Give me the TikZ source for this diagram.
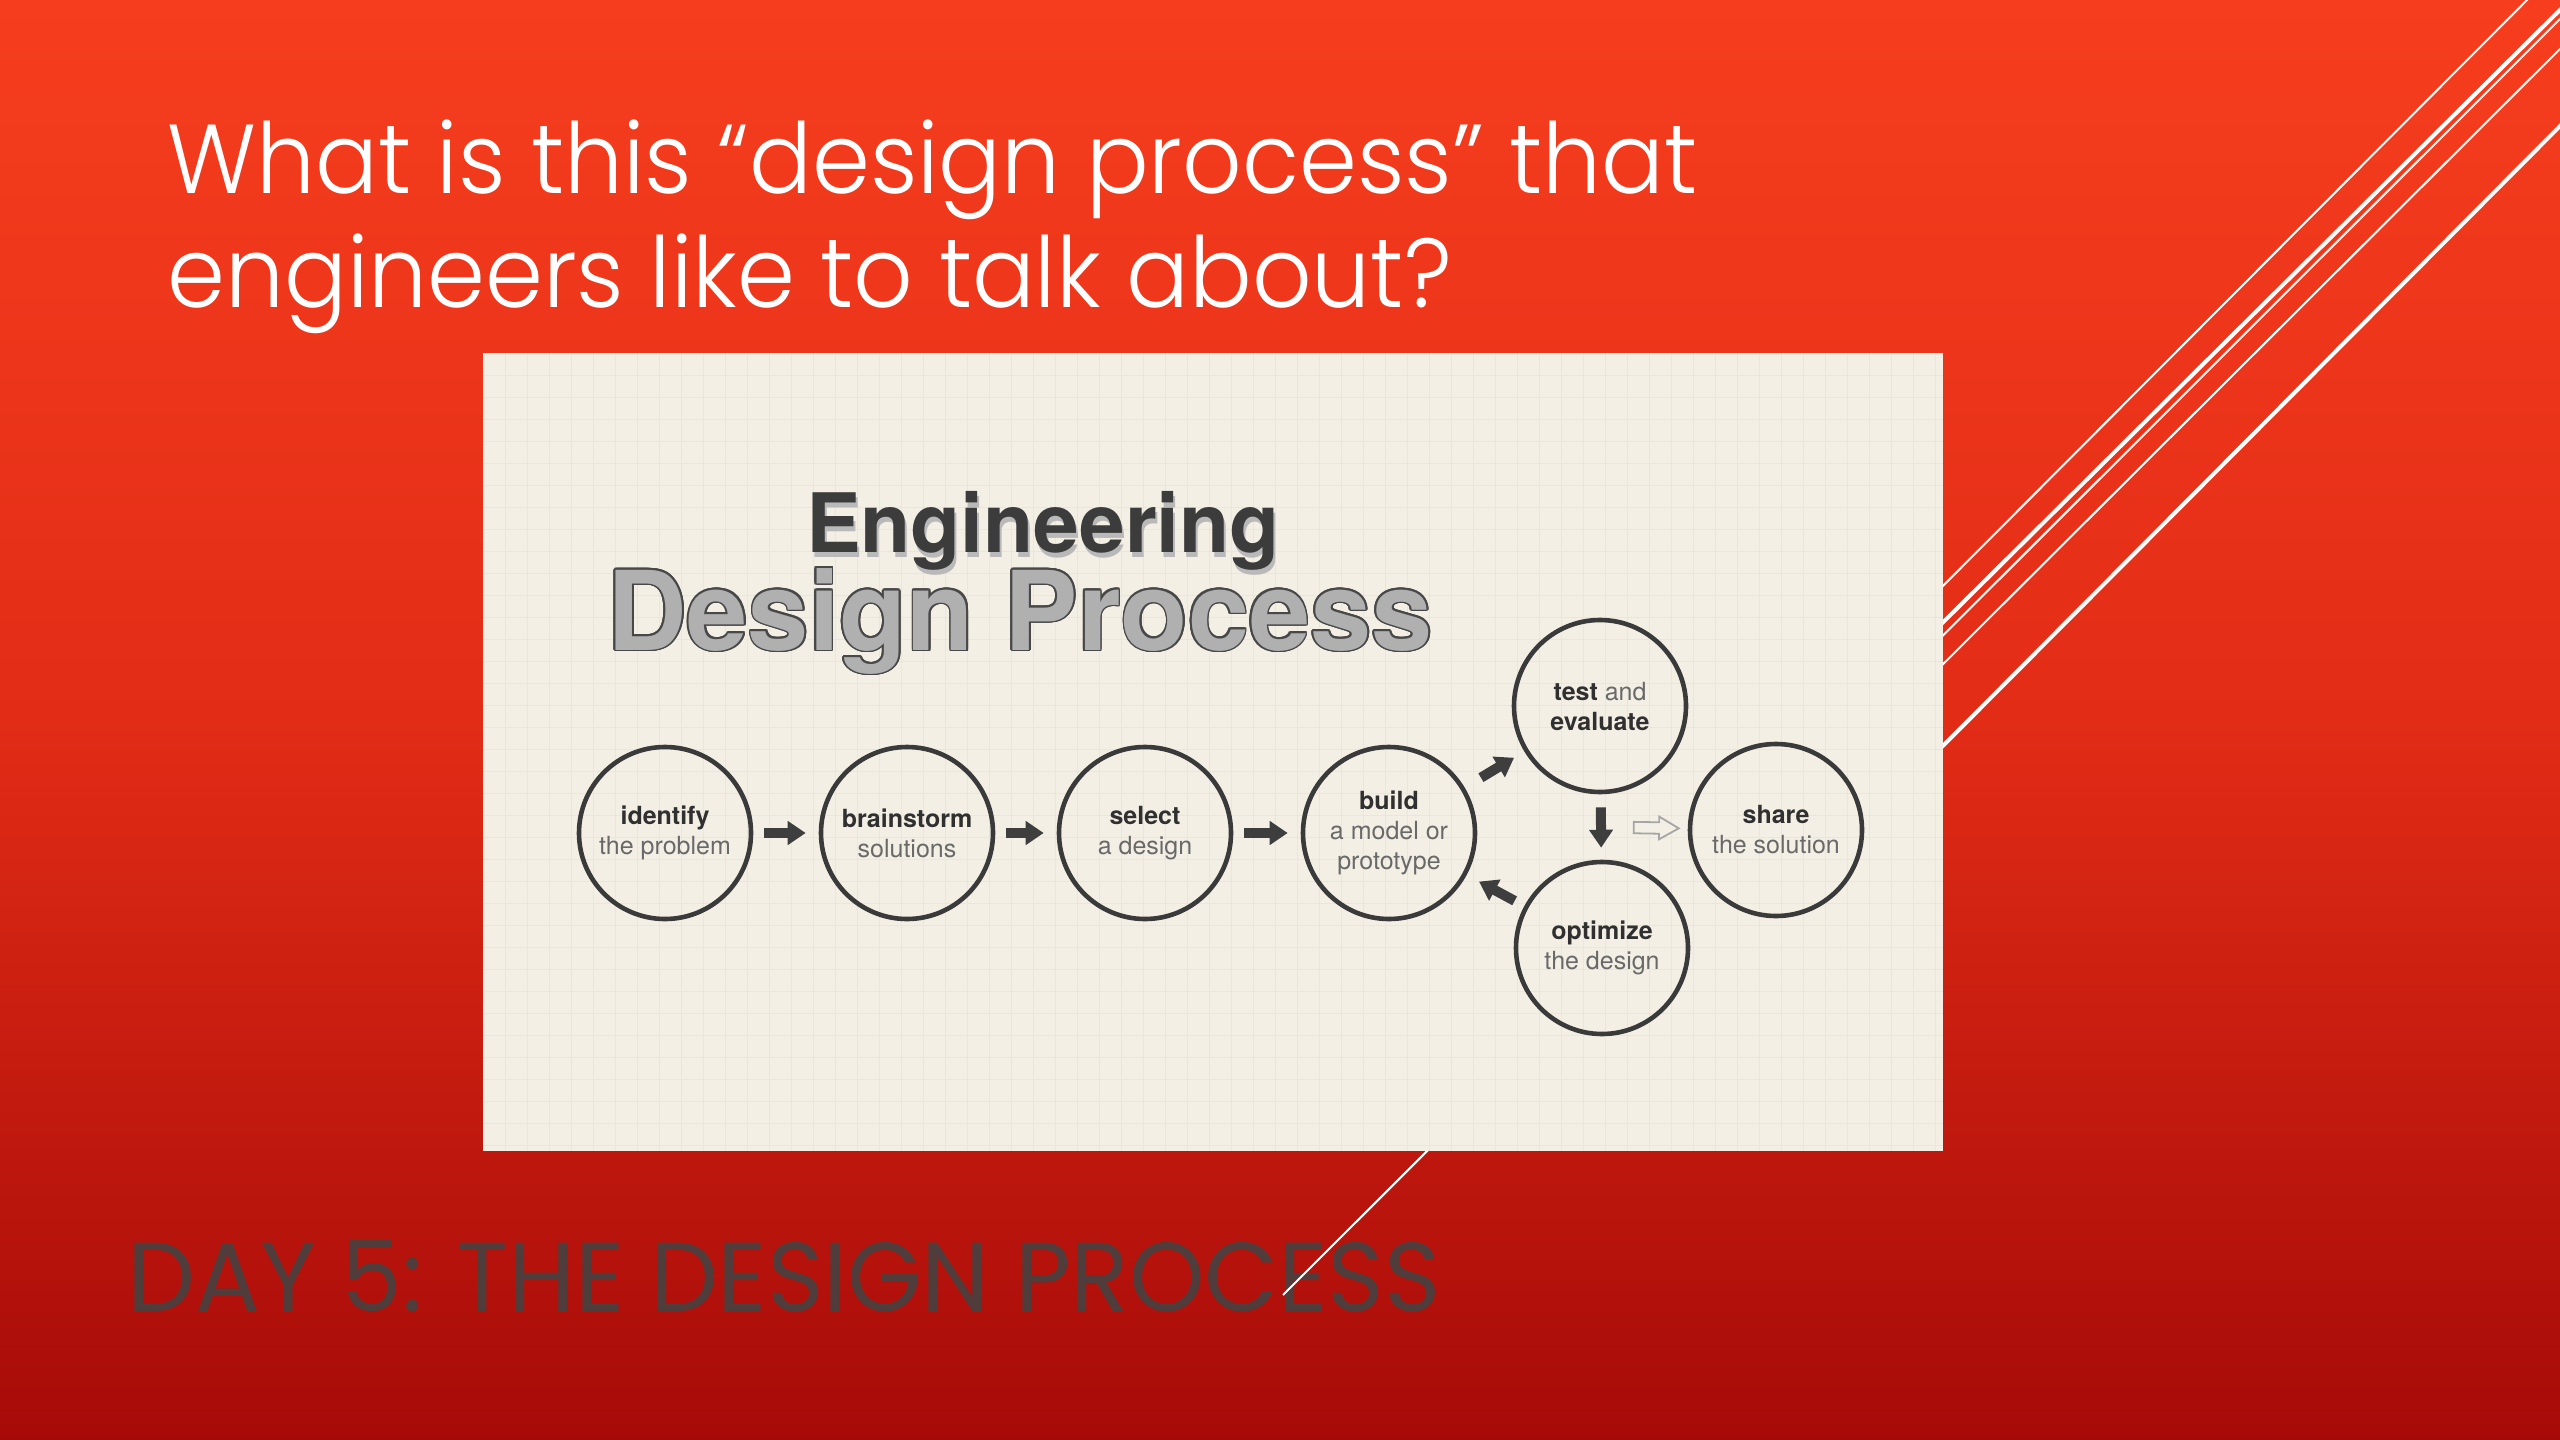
\documentclass[tikz,border=0pt]{standalone}
\usepackage{fontspec}
\usepackage[copies]{contour}
\usetikzlibrary{arrows.meta,shapes.arrows,calc}
\newfontfamily\gothic{Poppins Light}[FakeStretch=0.95]
\newfontfamily\gothicreg{Poppins}[FakeStretch=0.98]
\newfontfamily\helv{TeX Gyre Heros}
\definecolor{bgtop}{RGB}{246,62,30}
\definecolor{bgmid}{RGB}{226,44,22}
\definecolor{bgbot}{RGB}{166,10,8}
\definecolor{footc}{RGB}{80,60,58}
\definecolor{panelc}{RGB}{244,239,229}
\definecolor{gridc}{RGB}{235,230,220}
\definecolor{circc}{RGB}{58,58,58}
\definecolor{boldc}{RGB}{48,48,48}
\definecolor{regc}{RGB}{105,105,105}
\definecolor{arrc}{RGB}{62,62,62}
\definecolor{engc}{RGB}{60,60,60}
\definecolor{dpfill}{RGB}{176,176,176}
\definecolor{dpout}{RGB}{72,72,72}
\newcommand\bt[1]{{\bfseries\color{boldc}#1}}
\contourlength{0.9pt}
\begin{document}
\begin{tikzpicture}[x=0.5pt,y=-0.5pt,
  stage/.style={circle, draw=circc, line width=2.3pt, minimum size=86pt, inner sep=0pt, align=center, font=\helv\fontsize{12.5}{15}\selectfont, text=regc},
  fat/.style={draw=arrc, line width=5pt, -{Triangle[length=9pt,width=11.5pt]}},
  thinline/.style={draw=white, line width=1pt},
  thickline/.style={draw=white, line width=2pt}]
\useasboundingbox (0,0) rectangle (2560,1440);
\shade[top color=bgtop, bottom color=bgbot, middle color=bgmid] (0,0) rectangle (2560,1440);
% footer
\node[anchor=base west, inner sep=0pt, text=footc, font=\gothicreg\fontsize{49}{57}\selectfont] (footer) at (127,1311) {DAY 5: THE DESIGN PROCESS};
% decorative lines
\draw[thinline] (1900,629) -- (2540,-13);
\draw[thickline] (1900,665) -- (2570,0);
\draw[thinline] (1283,1295) -- (2570,9);
\draw[thinline] (1900,707) -- (2570,39);
\draw[thickline] (1900,789) -- (2570,116);
% panel
\fill[panelc] (483,353) rectangle (1943,1151);
\foreach \x in {505,527,...,1943} \draw[gridc, line width=0.5pt] (\x,353) -- (\x,1151);
\foreach \y in {375,397,...,1151} \draw[gridc, line width=0.5pt] (483,\y) -- (1943,\y);
% heading inside panel
\node[anchor=base, inner sep=0pt, text=gray!55, font=\helv\bfseries\fontsize{41}{41}\selectfont] (engsh) at (1045,557) {Engineering};
\node[anchor=base, inner sep=0pt, text=engc, font=\helv\bfseries\fontsize{41}{41}\selectfont] (eng) at (1043,552) {Engineering};
\node[anchor=base, inner sep=0pt, font=\helv\bfseries\fontsize{55}{55}\selectfont] (dp) at (1020,650) {\contour{dpout}{\textcolor{dpfill}{Design Process}}};
% stages
\node[stage] (identify) at (665,833) {\bt{identify}\\the problem};
\node[stage] (brainstorm) at (907,833) {\bt{brainstorm}\\solutions};
\node[stage] (select) at (1145,833) {\bt{select}\\a design};
\node[stage] (build) at (1389,833) {\bt{build}\\a model or\\prototype};
\node[stage] (test) at (1600,706) {\bt{test} and\\\bt{evaluate}};
\node[stage] (optimize) at (1602,948) {\bt{optimize}\\the design};
\node[stage] (share) at (1776,830) {\bt{share}\\the solution};
\coordinate (loopmid) at ($(test)!0.5!(optimize)$);
% arrows
\draw[fat, shorten <=5.5pt, shorten >=6.5pt] (identify) -- (brainstorm);
\draw[fat, shorten <=5.5pt, shorten >=6.5pt] (brainstorm) -- (select);
\draw[fat, shorten <=5.5pt, shorten >=6.5pt] (select) -- (build);
\draw[fat, shorten <=9.5pt, shorten >=6pt] (build) -- (test);
\draw[fat, shorten <=6.5pt, shorten >=6pt] (test) -- (optimize);
\draw[fat, shorten <=5.5pt, shorten >=7pt] (optimize) -- (build);
\path (loopmid) -- (share) node[pos=0.58, sloped, single arrow, draw=gray!70, fill=panelc, line width=0.9pt, minimum height=22.5pt, inner sep=2.4pt, single arrow head extend=2.8pt, single arrow tip angle=60] (openarrow) {};
% title
\node[anchor=base west, inner sep=0pt, text=white, font=\gothic\fontsize{49}{57}\selectfont] (t1) at (167,193) {What is this “design process” that};
\node[anchor=base west, inner sep=0pt, text=white, font=\gothic\fontsize{49}{57}\selectfont] (t2) at (167,307) {engineers like to talk about?};
\end{tikzpicture}
\end{document}
